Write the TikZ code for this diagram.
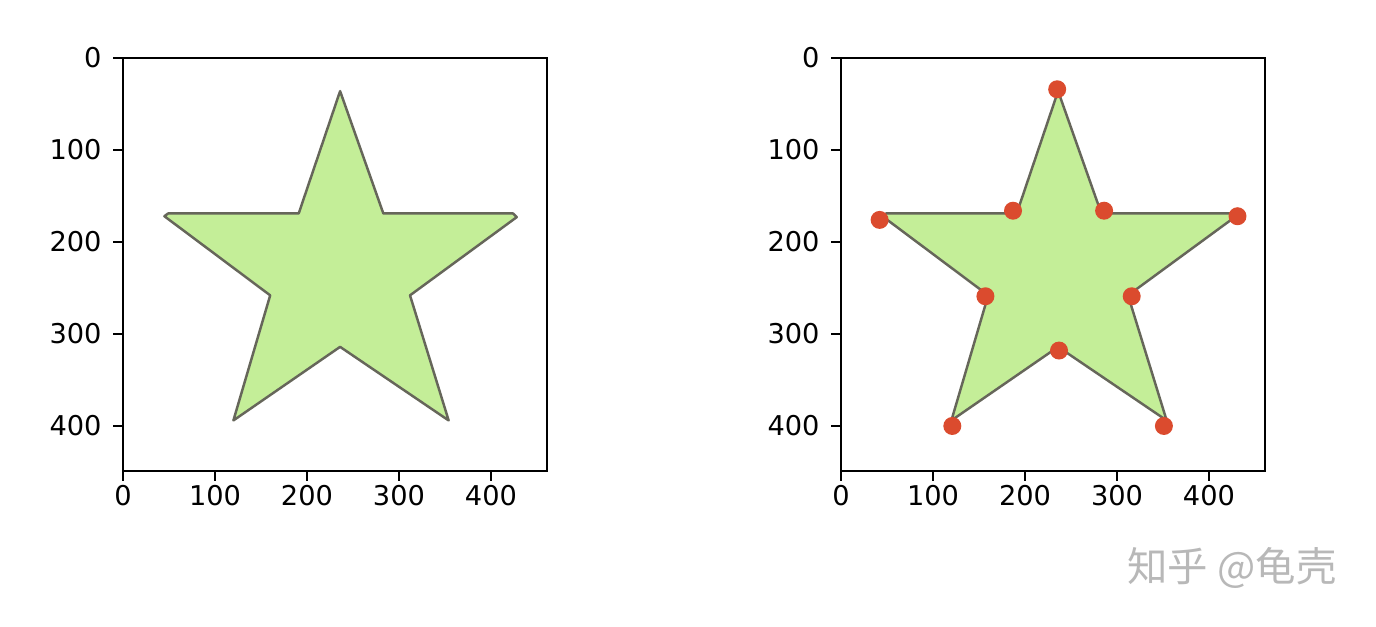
\documentclass[tikz,border=0pt]{standalone}
\usepackage{fontspec}
\setmainfont{DejaVu Sans}
\newfontfamily\cjk{Noto Sans CJK SC}
\usetikzlibrary{positioning}
\definecolor{starfill}{HTML}{C4EE98}
\definecolor{staredge}{HTML}{66665A}
\definecolor{dotred}{HTML}{DB4B2E}
\definecolor{markgray}{HTML}{B8B8B8}

\begin{document}
\begin{tikzpicture}[x=0.02cm,y=-0.02cm,
  frame/.style={line width=1.35pt},
  tick/.style={line width=1.35pt},
  ticklab/.style={inner sep=0pt,font=\fontsize{15.5}{18}\selectfont},
  starshape/.style={fill=starfill,draw=staredge,line width=1.4pt,line join=round},
  cornerdot/.style={circle,fill=dotred,inner sep=0pt,minimum size=0.36cm}]
  \useasboundingbox (0,0) rectangle (1376,626);
  % two axes, same image
  \foreach \ox/\nm in {123/L,841/R}{
    \begin{scope}[shift={(\ox,58)},x=0.0184cm,y=-0.0184cm]
      \fill[white] (0,0) rectangle (461,449);
      \draw[starshape] (236,36) -- (283,169) -- (424,169) -- (428,173) -- (312,258) -- (354,394)
        -- (236,314) -- (120,394) -- (160,258) -- (45,172) -- (49,169) -- (191,169) -- cycle;
      \draw[frame] (0,0) rectangle (461,449);
      \foreach \t in {0,100,...,400}{
        \draw[tick] (0,\t) -- (-10.9,\t);
        \node[ticklab,anchor=east] (yl\nm\t) at (-23,\t) {\t};
        \draw[tick] (\t,449) -- (\t,459.9);
        \node[ticklab,anchor=north] (xl\nm\t) at (\t,464) {\t};
      }
    \end{scope}
  }
  % detected corners
  \begin{scope}[shift={(841,58)},x=0.0184cm,y=-0.0184cm]
    \foreach \px/\py [count=\i] in {235/34,187/166,286/166,42/176,431/172,
        157/259,316/259,237/318,121/400,351/400}
      \node[cornerdot] (c\i) at (\px,\py) {};
  \end{scope}
  \node[text=markgray,font=\cjk\fontsize{23}{26}\selectfont] (mark) at (1232,568) {知乎 @龟壳};
\end{tikzpicture}
\end{document}
